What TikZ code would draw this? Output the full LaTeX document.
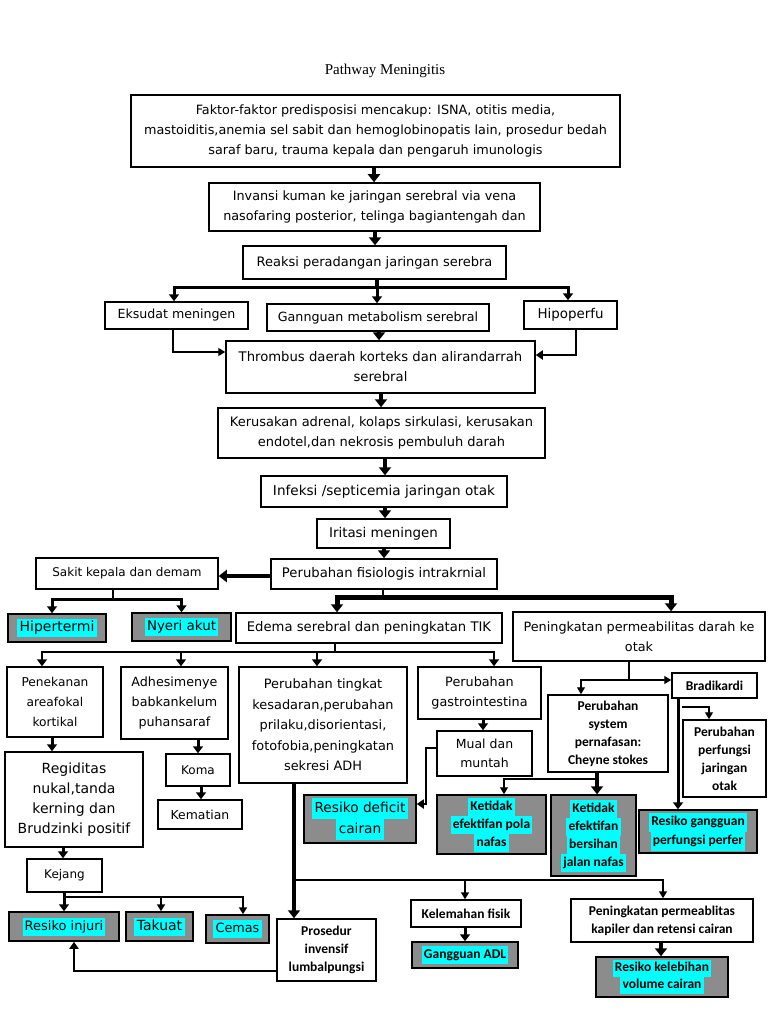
\documentclass[tikz,border=0pt]{standalone}
\usepackage{fontspec}
\setmainfont{DejaVu Sans}
\newfontfamily\calfont{Carlito}
\newfontfamily\tnrfont{Liberation Serif}
\usetikzlibrary{arrows.meta,calc}
\definecolor{boxgray}{RGB}{140,140,140}
\definecolor{hlcyan}{RGB}{0,255,255}
\newcommand{\fs}[2]{\fontsize{#1}{#2}\selectfont}
\newcommand{\hl}[1]{\begingroup\setlength{\fboxsep}{0pt}\colorbox{hlcyan}{\strut\,#1\,}\endgroup}
\tikzset{
  box/.style={draw=black, line width=1.5pt, fill=white, inner sep=0pt, align=center, font=\fs{13}{20}},
  gbox/.style={box, fill=boxgray},
  bfnt/.style={font=\calfont\bfseries\fs{13.5}{18}},
  ln/.style={line width=1.3pt},
  arr/.style={line width=1.3pt, -{Triangle[width=8pt,length=7pt]}},
  marr/.style={line width=2pt, -{Triangle[width=9pt,length=7pt]}},
  sarr/.style={line width=3pt, -{Triangle[width=10pt,length=7pt]}},
  tarr/.style={line width=4pt, -{Triangle[width=12pt,length=8pt]}},
}
\begin{document}
\begin{tikzpicture}[x=1pt,y=-1pt]
\fill[white] (0,0) rectangle (768,1024);
\useasboundingbox (0,0) rectangle (768,1024);

\node[font=\tnrfont\fs{15}{18}] (title) at (385,71) {Pathway Meningitis};

% top chain
\node[box, minimum width=489pt, minimum height=72pt, font=\fs{12.8}{20}] (f1) at (375.5,131) {Faktor-faktor predisposisi mencakup: ISNA, otitis media,\\ mastoiditis,anemia sel sabit dan hemoglobinopatis lain, prosedur bedah\\ saraf baru, trauma kepala dan pengaruh imunologis};
\node[box, minimum width=331pt, minimum height=48pt, font=\fs{12.8}{20}] (f2) at (374.5,207) {Invansi kuman ke jaringan serebral via vena\\ nasofaring posterior, telinga bagiantengah dan};
\node[box, minimum width=263pt, minimum height=33pt] (f3) at (374.5,262.5) {Reaksi peradangan jaringan serebra};
\node[box, minimum width=143pt, minimum height=27pt, font=\fs{12.6}{20}] (eks) at (176.5,315.5) {Eksudat meningen};
\node[box, minimum width=222pt, minimum height=27pt, font=\fs{12.7}{20}] (gan) at (378,317.5) {Gannguan metabolism serebral};
\node[box, minimum width=93pt, minimum height=28pt, font=\fs{13.4}{20}] (hip) at (570.5,315) {Hipoperfu};
\node[box, minimum width=309pt, minimum height=52pt, font=\fs{13.2}{20}] (thr) at (380.5,367) {Thrombus daerah korteks dan alirandarrah\\ serebral};
\node[box, minimum width=327pt, minimum height=50pt] (ker) at (381.5,433) {Kerusakan adrenal, kolaps sirkulasi, kerusakan\\ endotel,dan nekrosis pembuluh darah};
\node[box, minimum width=246pt, minimum height=31pt, font=\fs{13.6}{20}] (inf) at (384,491.5) {Infeksi /septicemia jaringan otak};
\node[box, minimum width=133pt, minimum height=29pt, font=\fs{13.4}{20}] (iri) at (383.5,533.5) {Iritasi meningen};
\node[box, minimum width=226pt, minimum height=30pt, font=\fs{13.2}{20}] (pfi) at (384,574) {Perubahan fisiologis intrakrnial};

% left
\node[box, minimum width=182pt, minimum height=31pt, font=\fs{12}{20}] (sak) at (127,573.5) {Sakit kepala dan demam};
\node[gbox, minimum width=98pt, minimum height=28pt, font=\fs{14}{18}] (hipt) at (57,628) {\hl{Hipertermi}};
\node[gbox, minimum width=99pt, minimum height=28pt, font=\fs{13.4}{18}] (nye) at (181.5,627) {\hl{Nyeri akut}};
\node[box, minimum width=266pt, minimum height=30pt, font=\fs{13.2}{20}] (ede) at (369,628) {Edema serebral dan peningkatan TIK};
\node[box, minimum width=252pt, minimum height=49pt, font=\fs{12.8}{20}] (pmb) at (639,636.5) {Peningkatan permeabilitas darah ke\\ otak};

\node[box, minimum width=96pt, minimum height=70pt, font=\fs{12.2}{20}] (pen) at (55,702) {Penekanan\\ areafokal\\ kortikal};
\node[box, minimum width=107pt, minimum height=72pt, font=\fs{12.7}{20}] (adh) at (174.5,703) {Adhesimenye\\ babkankelum\\ puhansaraf};
\node[box, minimum width=168pt, minimum height=116pt, font=\fs{12.9}{20.5}] (ptk) at (323,725) {Perubahan tingkat\\ kesadaran,perubahan\\ prilaku,disorientasi,\\ fotofobia,peningkatan\\ sekresi ADH};
\node[box, minimum width=123pt, minimum height=52pt, font=\fs{12.8}{20}] (pga) at (479.5,693) {Perubahan\\ gastrointestina};
\node[box, minimum width=95pt, minimum height=45pt, font=\fs{12.5}{19}] (mua) at (484.5,753.5) {Mual dan\\ muntah};
\node[box, minimum width=138pt, minimum height=95pt, font=\fs{14}{20}] (reg) at (74,799.5) {Regiditas\\ nukal,tanda\\ kerning dan\\ Brudzinki positif};
\node[box, minimum width=64pt, minimum height=32pt, font=\fs{12}{20}] (kom) at (198,770) {Koma};
\node[box, minimum width=84pt, minimum height=29pt, font=\fs{12.4}{20}] (kem) at (200,814.5) {Kematian};

% right
\node[box, bfnt, minimum width=85pt, minimum height=25pt] (brad) at (714.5,685.5) {Bradikardi};
\node[box, bfnt, minimum width=120pt, minimum height=77pt] (psy) at (608,733.5) {Perubahan\\ system\\ pernafasan:\\ Cheyne stokes};
\node[box, bfnt, minimum width=83pt, minimum height=77pt] (ppj) at (724.5,758.5) {Perubahan\\ perfungsi\\ jaringan\\ otak};
\node[gbox, minimum width=112pt, minimum height=48pt, font=\fs{13.7}{21}] (rdc) at (360,819) {\hl{Resiko deficit}\\ \hl{cairan}};
\node[gbox, minimum width=109pt, minimum height=59pt, font=\calfont\bfseries\fs{13.5}{18}] (kpn) at (491.5,824.5) {\hl{Ketidak}\\ \hl{efektifan pola}\\ \hl{nafas}};
\node[gbox, minimum width=85pt, minimum height=81pt, font=\calfont\bfseries\fs{13.5}{18}] (kbj) at (593.5,835.5) {\hl{Ketidak}\\ \hl{efektifan}\\ \hl{bersihan}\\ \hl{jalan nafas}};
\node[gbox, minimum width=118pt, minimum height=43pt, font=\calfont\bfseries\fs{13.5}{19}] (rgp) at (698,831.5) {\hl{Resiko gangguan}\\ \hl{perfungsi perfer}};

% bottom
\node[box, minimum width=75pt, minimum height=33pt, font=\fs{12}{20}] (kej) at (64.5,875.5) {Kejang};
\node[gbox, minimum width=110pt, minimum height=29pt, font=\fs{13}{18}] (rin) at (64,926.5) {\hl{Resiko injuri}};
\node[gbox, minimum width=67pt, minimum height=29pt, font=\fs{14}{18}] (tak) at (159.5,926.5) {\hl{Takuat}};
\node[gbox, minimum width=63pt, minimum height=28pt, font=\fs{12.8}{18}] (cem) at (237.5,929) {\hl{Cemas}};
\node[box, bfnt, minimum width=99pt, minimum height=62pt] (pro) at (326.5,950) {Prosedur\\ invensif\\ lumbalpungsi};
\node[box, bfnt, minimum width=110pt, minimum height=27pt] (kel) at (466,913.5) {Kelemahan fisik};
\node[gbox, minimum width=106pt, minimum height=26pt, font=\calfont\bfseries\fs{13.5}{18}] (gad) at (465,955) {\hl{Gangguan ADL}};
\node[box, bfnt, minimum width=182pt, minimum height=43pt] (pkr) at (662,920.5) {Peningkatan permeablitas\\ kapiler dan retensi cairan};
\node[gbox, minimum width=132pt, minimum height=40pt, font=\calfont\bfseries\fs{13.5}{17}] (rkv) at (662,977) {\hl{Resiko kelebihan}\\ \hl{volume cairan}};

% ---- connectors ----
\draw[tarr] (f1.south -| 374,0) -- (f2.north -| 374,0);
\draw[tarr] (f2.south -| 375,0) -- (f3.north -| 375,0);
\coordinate (j1) at (377,287);
\draw[line width=4pt] (f3.south -| j1) -- (j1);
\draw[sarr] (j1) -| ($(eks.north)+(-2.5,0)$);
\draw[sarr] (j1) -| ($(hip.north)+(-2.5,0)$);
\draw[sarr] (j1) -- (gan.north -| j1);

\draw[arr] ($(eks.south)+(-3.5,0)$) |- (thr.west |- 0,352);
\draw[tarr] (gan.south -| 379,0) -- (thr.north -| 379,0);
\draw[marr, line width=2.5pt] (hip.south -| 576,0) |- (thr.east |- 0,355);

\draw[tarr] (thr.south -| 381,0) -- (ker.north -| 381,0);
\draw[tarr] (ker.south -| 385,0) -- (inf.north -| 385,0);
\draw[tarr] (inf.south -| 385,0) -- (iri.north -| 385,0);
\draw[tarr] (iri.south -| 384,0) -- (pfi.north -| 384,0);

\draw[tarr] (pfi.west |- 0,576) -- (sak.east |- 0,576);
\coordinate (j2) at (113,599);
\draw[ln] (sak.south -| j2) -- (j2);
\draw[sarr] (j2) -| ($(hipt.north)+(-5,0)$);
\draw[sarr] (j2) -| (nye.north);

\coordinate (j3) at (383,597);
\draw[ln] (pfi.south -| j3) -- (j3);
\draw[tarr, line width=5pt] (j3) -| (ede.north -| 337,0);
\draw[tarr, line width=5pt] (j3) -| (pmb.north -| 671,0);

\coordinate (j4) at (335,652);
\draw[ln] (ede.south -| j4) -- (j4);
\draw[sarr, line width=2.5pt] (j4) -| (pen.north -| 42,0);
\draw[sarr, line width=2.5pt] (j4) -| (adh.north -| 181,0);
\draw[sarr, line width=2.5pt] (j4) -| (ptk.north -| 317,0);
\draw[sarr, line width=2.5pt] (j4) -| (pga.north -| 494,0);

\draw[sarr] (pen.south -| 52,0) -- (reg.north -| 52,0);
\draw[sarr] (adh.south -| 198,0) -- (kom.north -| 198,0);
\draw[sarr] (kom.south -| 201,0) -- (kem.north -| 201,0);
\draw[sarr] (reg.south -| 63,0) -- (kej.north -| 63,0);

\draw[sarr] (kej.south -| 64,0) -- (rin.north -| 64,0);
\coordinate (j5) at (64,897);
\draw[arr, line width=1.8pt] (j5) -| (tak.north -| 161,0);
\draw[arr, line width=1.8pt] (j5) -| (cem.north -| 243,0);

\draw[tarr] (ptk.south -| 294,0) -- (pro.north -| 294,0);
\coordinate (j6) at (294,880);
\draw[arr, line width=1.5pt] (j6) -| (kel.north -| 465,0);
\draw[arr, line width=1.5pt] (j6) -| (pkr.north -| 663,0);
\draw[marr] (pro.west |- 0,971) -| (rin.south -| 74,0);

\draw[sarr] (pga.south -| 483,0) -- (mua.north -| 483,0);
\coordinate (b1) at (426,748);
\draw[marr] (mua.west |- b1) -- (b1) |- (rdc.east |- 0,804);

\coordinate (j7) at (629,680);
\draw[ln] (pmb.south -| j7) -- (j7);
\draw[arr] (j7) -| (psy.north -| 581,0);
\draw[arr] (j7) -- (brad.west |- j7);

\draw[tarr] (psy.south -| 597,0) -- (kbj.north -| 597,0);
\coordinate (j8) at (597,779);
\draw[arr] (j8) -| (kpn.north -| 504,0);

\draw[sarr] (brad.south -| 678,0) -- (rgp.north -| 678,0);
\coordinate (j9) at (682,707);
\draw[arr] (j9) -| (ppj.north -| 709,0);

\draw[sarr] (kel.south -| 465,0) -- (gad.north -| 465,0);
\draw[tarr] (pkr.south -| 661,0) -- (rkv.north -| 661,0);
\end{tikzpicture}
\end{document}
